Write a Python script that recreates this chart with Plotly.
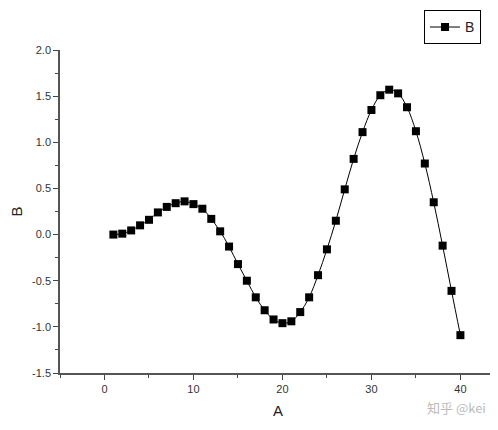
import plotly.graph_objects as go

x_vals = list(range(1, 41))
y_vals = [0.0, 0.01, 0.045, 0.10, 0.16, 0.24, 0.30, 0.34, 0.36, 0.33,
          0.28, 0.17, 0.035, -0.13, -0.32, -0.50, -0.68, -0.82, -0.92, -0.96,
          -0.94, -0.84, -0.68, -0.44, -0.16, 0.15, 0.49, 0.82, 1.11, 1.35,
          1.51, 1.57, 1.53, 1.38, 1.12, 0.77, 0.35, -0.12, -0.61, -1.09]
series_name = "B"
x_title = "A"
y_title = "B"
x_ticks = [0, 10, 20, 30, 40]
y_ticks = [-1.5, -1.0, -0.5, 0.0, 0.5, 1.0, 1.5, 2.0]
y_tick_labels = ["-1.5", "-1.0", "-0.5", "0.0", "0.5", "1.0", "1.5", "2.0"]

font_family = "Liberation Sans, Arial, sans-serif"

# page body has an 8px default margin; figure is sized/offset to compensate
OFF = 8
L, T, R, B = 60 - OFF, 44 - OFF, 2, 57
W, H = 498 - OFF, 430 - OFF
plot_w = W - L - R
plot_h = H - T - B

fig = go.Figure()
fig.add_trace(go.Scatter(
    x=x_vals, y=y_vals, name=series_name, mode="lines+markers",
    line=dict(color="black", width=1, shape="spline"),
    marker=dict(symbol="square", size=8, color="black"),
))

axis_common = dict(
    showline=True, linecolor="#555555", linewidth=1.5,
    ticks="outside", ticklen=5, tickwidth=1, tickcolor="#444444",
    showgrid=False, zeroline=False, mirror=False, automargin=False,
    tickfont=dict(family=font_family, size=11, color="#333333"),
)

fig.update_xaxes(
    range=[-5, 44], tickvals=x_ticks,
    title=dict(text=x_title, font=dict(family=font_family, size=15, color="#222222"), standoff=12),
    minor=dict(ticks="outside", ticklen=3, dtick=5, tick0=0, tickcolor="#444444"),
    **axis_common,
)
fig.update_yaxes(
    range=[-1.5, 2.0], tickvals=y_ticks, ticktext=y_tick_labels,
    title=dict(text=y_title, font=dict(family=font_family, size=15, color="#222222"), standoff=28),
    minor=dict(ticks="outside", ticklen=3, dtick=0.25, tick0=0, tickcolor="#444444"),
    **axis_common,
)

fig.update_layout(
    width=W, height=H,
    margin=dict(l=L, r=R, t=T, b=B),
    paper_bgcolor="white", plot_bgcolor="white",
    font=dict(family=font_family),
    showlegend=True,
    legend=dict(
        x=(424 - 60) / plot_w, y=1 + (44 - 21) / plot_h, xanchor="left", yanchor="middle",
        bordercolor="black", borderwidth=1, bgcolor="white",
        font=dict(family=font_family, size=14, color="#222222"),
        itemwidth=30, tracegroupgap=0,
    ),
    annotations=[dict(
        text="知乎 @kei", xref="paper", yref="paper",
        x=(488 - 60) / plot_w, y=-(408 - 373) / plot_h,
        xanchor="right", yanchor="middle", showarrow=False,
        font=dict(family="Noto Sans CJK SC, sans-serif", size=13, color="#bbbbbb"),
    )],
)

fig.write_html("out.html")
